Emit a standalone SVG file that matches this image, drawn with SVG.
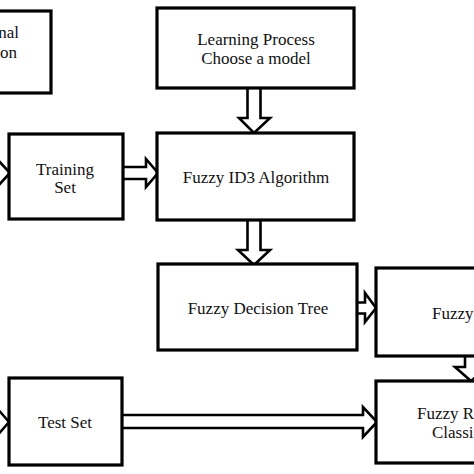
<svg xmlns="http://www.w3.org/2000/svg" width="474" height="474" viewBox="0 0 474 474">
<style>
.box{fill:#fff;stroke:#000;stroke-width:3.2}
.arr{fill:#fff;stroke:#000;stroke-width:2.6;stroke-linejoin:miter}
text{font-family:"Liberation Serif","Times New Roman",serif;font-size:17px;fill:#111}
.c{text-anchor:middle}
.e{text-anchor:end}
</style>
<rect width="474" height="474" fill="#fff"/>
<g id="connectors">
<path class="arr" d="M-20,167 H-3 V159 L10,173 L-3,187 V179 H-20"/>
<path class="arr" d="M-20,415 H-4 V407 L9,422 L-4,437 V428 H-20"/>
<path class="arr" d="M123,167 H146 V159 L158,173 L146,187 V179 H123"/>
<path class="arr" d="M247.5,88 V118 H239 L254,133 L270,118 H260.5 V88"/>
<path class="arr" d="M247.5,220 V250 H238 L254,265 L270,250 H260.5 V220"/>
<path class="arr" d="M357,302.5 H365 V293 L376,308 L365,322 V313.5 H357"/>
<path class="arr" d="M122,415 H363 V407 L377,422 L363,437 V428 H122"/>
<path class="arr" d="M465,356 V367 H455 L471,381 L487,367 H477 V356"/>
</g>
<g id="n-input">
<rect class="box" x="-10" y="11" width="61" height="82"/>
<text class="e" x="19" y="38">nal</text>
<text class="e" x="17" y="58">on</text>
</g>
<g id="n-learning">
<rect class="box" x="157" y="8" width="197" height="80"/>
<text class="c" x="256" y="45">Learning Process</text>
<text class="c" x="256" y="64">Choose a model</text>
</g>
<g id="n-training">
<rect class="box" x="9" y="134" width="114" height="85"/>
<text class="c" x="65" y="175">Training</text>
<text class="c" x="65" y="193">Set</text>
</g>
<g id="n-id3">
<rect class="box" x="157" y="133" width="197" height="87"/>
<text class="c" x="256" y="183">Fuzzy ID3 Algorithm</text>
</g>
<g id="n-tree">
<rect class="box" x="158" y="264" width="199" height="86"/>
<text class="c" x="258" y="314">Fuzzy Decision Tree</text>
</g>
<g id="n-fuzzy">
<rect class="box" x="376" y="268" width="120" height="88"/>
<text x="432" y="319">Fuzzy</text>
</g>
<g id="n-test">
<rect class="box" x="9" y="378" width="113" height="87"/>
<text class="c" x="65" y="428">Test Set</text>
</g>
<g id="n-classifier">
<rect class="box" x="376" y="381" width="120" height="82"/>
<text x="417" y="419">Fuzzy R</text>
<text x="432" y="438">Classi</text>
</g>
</svg>
